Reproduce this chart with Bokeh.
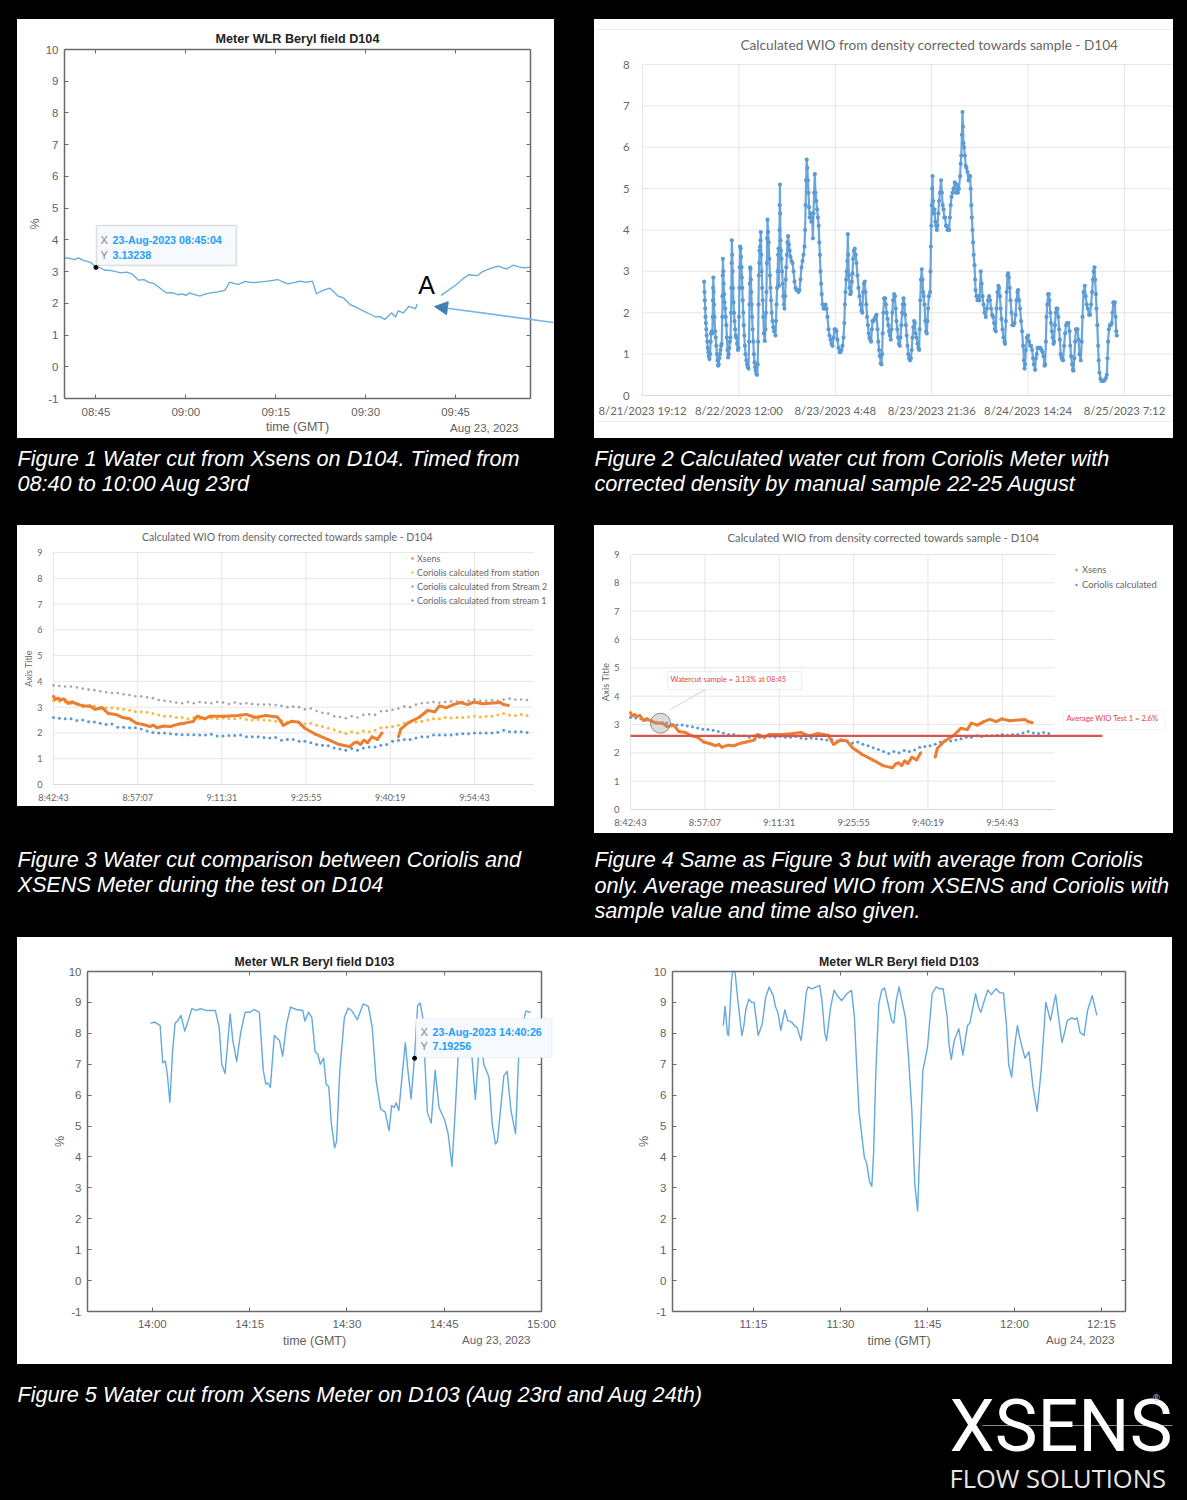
from math import pi, nan
from bokeh.plotting import figure
from bokeh.document import Document
from bokeh.layouts import column, row
from bokeh.embed import file_html
from bokeh.resources import INLINE
from bokeh.events import DocumentReady
from bokeh.models import (Range1d, LinearAxis, FixedTicker, Label, BoxAnnotation, Arrow, NormalHead,
                          Spacer, Legend, LegendItem, CustomJS)

# ---------- Figure 1 : minutes after 08:40 ----------
fig1_t = [-0.25, 0.64, 1.4, 2.07, 2.8, 3.5, 4.2, 5, 5.7, 6.4, 7.5, 8.3, 9.2, 10.1, 11, 12.1, 13, 13.8, 14.7, 15.6, 16.7, 17.7, 18.7, 19.4, 20, 20.6, 21.3, 22.4, 23.3, 24.2, 25.3, 26.5, 27.3,
          28.1, 28.8, 29.9, 31, 32.2, 33.7, 35.3, 37, 38, 39.1, 40.1, 41.1, 41.8, 42.8, 44, 45.4, 46.3, 47.4, 48.4, 49.4, 50.5, 51.7, 52.4, 53.2, 54.3, 55, 55.4, 56.3, 57.2, 58.3, 58.6,
          60, 62.6, 63.8, 65.2, 66.2, 67.2, 68.6, 69.5, 70.8, 72.1, 73.5, 74.6, 75.5, 76.4, 77.5]
fig1_wlr = [3.43, 3.42, 3.38, 3.43, 3.36, 3.32, 3.28, 3.13, 3.12, 3.05, 3.03, 3.0, 2.96, 2.98, 2.93, 2.73, 2.75, 2.66, 2.62, 2.49, 2.33, 2.34, 2.27, 2.3, 2.25, 2.33, 2.28, 2.23, 2.3, 2.33, 2.36, 2.41, 2.67,
            2.62, 2.6, 2.69, 2.65, 2.67, 2.7, 2.75, 2.61, 2.65, 2.7, 2.66, 2.7, 2.3, 2.4, 2.48, 2.23, 2.17, 1.96, 1.88, 1.78, 1.68, 1.57, 1.58, 1.49, 1.7, 1.57, 1.76, 1.7, 1.9, 1.83, 1.98,
            nan, 2.25, 2.41, 2.6, 2.77, 2.9, 2.87, 3.0, 3.1, 3.17, 3.08, 3.2, 3.15, 3.12, 3.14]
fig1_ticks = [5, 20, 35, 50, 65]
fig1_labels = ["08:45", "09:00", "09:15", "09:30", "09:45"]
matlab_y = [-1, 0, 1, 2, 3, 4, 5, 6, 7, 8, 9, 10]

# ---------- Figure 2 : axis units, one tick = 96.4 ----------
fig2_trace = [
 (61.6,2.75),(62,2.5),(62.3,2.3),(62.7,2.1),(63,1.9),(63.4,1.75),(63.8,1.6),(64.2,1.45),(64.8,1.3),(65.3,1.15),(65.8,1.05),(66.3,.95),(67,.88),(67.6,1),(68.2,1.3),(68.6,1.5),(69.2,1.55),(69.8,1.5),(70.2,1.9),(70.4,2.3),(70.6,2.6),(70.8,2.85),
 (71.2,2.5),(71.6,2.2),(72,1.9),(72.6,1.55),(73.2,1.4),(73.8,1.2),(74.4,1),(75,.85),(75.6,.72),(76.2,.75),(76.8,.9),(77.4,1),(78,1.1),(78.6,1.2),(79.2,1.25),(79.8,1.9),(80,2.4),(80.2,2.9),(80.4,3.3),(80.8,3),(81.2,2.7),(81.6,2.45),(82,2.25),(82.6,2.1),(83.2,1.9),(83.8,1.7),(84.4,1.4),(85,1.1),(85.6,.92),
 (86.2,1),(86.8,1.15),(87.4,1.3),(88,1.4),(88.6,2),(88.9,2.6),(89.1,3.2),(89.3,3.75),(89.7,3.4),(90.1,3),(90.5,2.6),(91,2.25),(91.5,2),(92,1.8),(92.6,1.6),(93.2,1.45),(93.8,1.4),(94.6,1.25),(95.4,1.1),(96,1.15),(96.5,1.9),(96.9,2.6),(97.2,3.1),(97.6,3.6),(98.2,3.55),(98.6,3.35),(99,3.1),(99.4,2.85),(99.8,2.6),(100.2,2.3),(100.7,2),(101.2,1.7),(101.8,1.45),(102.4,1.2),(103,1),(103.8,.85),(104.6,.75),(105.4,.68),(106,.65),
 (106.6,1.3),(107,2.2),(107.3,2.7),(107.6,3.1),(108,3.05),(108.4,2.8),(108.8,2.5),(109.2,2.2),(109.6,1.9),(110.2,1.6),(110.8,1.3),(111.4,1),(112,.8),(112.6,.68),(113.2,.6),(113.8,.52),(114.6,.5),(115.2,.75),(115.6,1.3),(116,2.2),(116.3,2.9),(116.7,3.2),(117,3.5),(117.5,3.6),(118,3.75),(118.3,3.95),(118.8,3.4),(119.2,3),(119.7,2.6),(120.2,2.3),(120.8,1.9),(121.4,1.5),(122.3,1.32),(123,1.6),(123.5,2),(124,2.5),(124.3,3.2),(124.6,3.8),(125,4.25),(125.6,3.95),(126.2,3.7),(126.8,3.3),(127.4,2.9),(128,2.6),(128.6,2.3),(129.2,2),(130,1.8),(130.8,1.65),(131.6,1.55),(133,1.45),
 (133.5,1.8),(134,2.2),(134.6,2.6),(135.2,3),(135.6,3.4),(136,3.55),(136.5,2.65),(137,4),(137.2,4.6),(137.4,5.1),(137.7,4.4),(138,3.75),(138.5,3.5),(139,3.3),(139.6,3),(140.2,2.7),(140.8,2.4),(141.4,2.2),(142,2.1),(142.6,2.4),(143.2,2.8),(143.8,3.1),(144.4,3.4),(145,3.7),(145.6,3.85),(146.4,3.65),(147.2,3.5),(148,3.35),(149,3.25),(150,3.2),(151,3),(152,2.75),(153,2.6),(154,2.55),(155,2.55),(156,2.5),(157,2.55),(158,2.8),(159,3.1),(160,3.25),(161,3.4),(162,3.6),(162.6,4),(163.1,4.6),(163.6,5.2),(164.2,5.7),(164.8,5.5),(165.4,5.2),(166,4.9),(166.6,4.55),(167.2,4.3),(168,4.4),(168.8,4.2),(169.6,4.3),(170.4,3.8),(171,4.4),(171.6,4.9),(172.3,5.35),(173,4.9),(173.8,4.7),(174.6,4.5),(175.4,4.3),(176.2,4.1),(176.8,3.7),(177.4,3.4),(178,3),(178.6,2.7),(179.2,2.45),(180,2.2),(181,2.1),(182,2.1),(183,2.2),(184,2.1),(185,1.9),(186,1.6),(187,1.45),(188,1.35),(189,1.25),(190,1.2),(191,1.4),(192,1.6),(193,1.6),(194,1.55),(195,1.35),(196,1.15),(197,1.05),(198,1.05),(199,1.1),(200,1.2),(201,1.4),(201.8,1.75),(202.4,2.2),(203,2.5),(203.6,2.8),(204.2,3),(204.8,3.25),(205.3,3.9),(205.8,3.4),(206.4,2.9),(207,2.6),(207.8,2.45),(208.6,2.5),(209.4,2.75),(210,2.95),(210.6,3.3),(211.4,3.5),(212.3,3.55),(213.2,3.4),(214,3.2),(215,2.9),(216,2.6),(217,2.4),(218,2.2),(219,2.05),(219.8,2),(220.6,2.5),(221.4,2.7),(222.3,2.75),(223,2.5),(223.8,2.2),(224.6,1.9),(225.4,1.7),(226.2,1.5),(227,1.4),(227.8,1.35),(228.6,1.3),(229.4,1.6),(230,1.8),(231,1.8),(232,1.85),(233,1.9),(234,1.95),(235,1.6),(235.8,1.3),(236.6,1.1),(237.4,.95),(238.3,.78),(239,.75),(239.6,1),(240.2,1.5),(240.8,2),(241.6,2.35),
 (242.6,2.35),(243.4,2.2),(244.2,2),(245,1.85),(245.8,1.7),(246.6,1.55),(247.4,1.45),(248.3,1.35),(249,1.6),(249.8,2),(250.6,2.3),(251.6,2.45),(252.4,2.4),(253.2,2.1),(254,1.8),(254.8,1.6),(255.6,1.4),(256.4,1.25),(257.3,1.2),(258,1.4),(258.8,1.7),(259.6,2),(260.2,2.2),(261,2.35),(261.8,2.2),(262.6,1.95),(263.4,1.7),(264.2,1.45),(265,1.2),(265.8,1),(266.6,.9),(267.6,.85),(268.4,.9),(269.2,1.1),(270,1.4),(270.8,1.65),(271.6,1.8),(272.4,1.75),(273.2,1.5),(274,1.4),(275,1.25),(276,1.15),(276.6,1.1),(277.2,1.6),(277.8,2.3),(278.4,2.8),(279.3,3.05),(280,2.8),(280.6,2.5),(281.2,2.4),(282,2.2),(282.8,1.8),(283.6,1.55),(284.3,1.5),(285,1.8),(285.6,2.1),(286.4,2.4),(287.6,2.5),(288,3),(288.4,3.6),(288.8,4.1),(289.2,4.6),(289.6,5),(290,5.3),(290.6,4.7),(291.2,4.4),(292,4.5),(292.8,4.2),(293.6,4.1),(294.4,4),(295,4.1),(295.8,4.4),(296.6,4.7),(297.4,4.9),(298.6,5.2),(299.4,4.9),(300.2,4.6),(301,4.5),(301.8,4.3),(302.6,4.3),(303.4,4.1),(304.2,4.1),(305,4),(306.6,4),(307.4,4.3),(308.2,4.6),(309,4.8),(310,4.9),(311,5),(312.3,5.15),(313.4,4.9),(314.4,5.1),(315.4,4.9),(316.4,5),(317.6,5.3),(318.2,5.6),(318.8,5.8),(319.4,6.3),(320,6.85),(320.5,6.5),(321,6.1),(321.6,6),(322.4,5.8),(323.2,5.55),(324,5.5),(325,5.4),(326,5.2),(327,5.3),(327.6,5.3),(328.2,5),(328.8,4.6),(329.4,4.3),(330,4),(330.6,3.7),(331.2,3.4),(332,3.15),(332.6,2.8),(333,2.55),(334,2.4),(335,2.3),(336,2.4),(337,2.3),(338.3,3),(339.2,2.7),(340,2.4),(341,2.2),(342,2),(343.3,1.9),(344.4,2.1),(345.6,2.3),(346.6,2.4),(347.6,2.3),(348.6,2.1),(349.6,1.95),(350.6,1.9),(351.6,1.75),(352.4,1.6),(353.3,1.55),(354,2.1),(355,2.5),(355.8,2.65),(356.6,2.6),(357.4,2.4),(358.2,2.1),(359,1.85),(360,1.6),(361,1.4),(362,1.3),(362.6,1.25),(363.4,1.8),(364.2,2.5),(365,2.9),(365.6,2.95),(366.4,2.85),(367.2,2.6),(368,2.3),(369,2),(370,1.7),(371,1.7),(372,1.75),(373,1.95),(374,2.3),(375,2.5),(375.6,2.55),(376.6,2.3),(377.6,2.1),(378.6,1.8),(379.6,1.55),(380.6,1.2),(381.4,.85),(382,.65),(382.6,.75),(383.4,1.1),(384.4,1.4),(385.6,1.45),(386.6,1.3),(387.6,1.2),(388.6,1.2),(389.6,1.1),(390.6,.9),(391.4,.75),(392.6,.62),(393.4,.9),(394.2,1),(395,1.15),(396,1.15),(397,1.15),(398,1.15),(399,1.1),(400,1.05),(401,.95),(402,.72),(402.6,.75),(403.4,1.3),(404,1.9),(404.8,2.2),(405.6,2.45),(406.3,2.45),(407,2.3),(407.8,2),(408.6,1.75),(409.4,1.55),(410.2,1.4),(411,1.25),(411.6,1.3),(412.4,1.7),(413.2,2),(414,2.1),(415,2.1),(415.8,1.9),(416.6,1.6),(417.4,1.35),(418.2,1),(419,.92),(419.8,.87),(420.6,.85),(421.6,1.2),(422.6,1.5),(423.6,1.7),(424.6,1.75),(426,1.75),(427,1.55),(427.8,1.2),(428.6,.95),(429.6,.75),(430.4,.62),(431,.6),(431.8,.9),(432.6,1.3),(433.4,1.6),(434.2,1.6),(435,1.6),(436,1.35),(437,1),(438.3,.85),(439.2,1.3),(440,1.9),(441,2.5),(442.3,2.65),(443.2,2.4),(444.2,2.2),(445.2,2.1),(446.6,1.95),(447.6,1.95),(448.6,2.2),(449.6,2.5),(450.4,2.8),(451.2,3),(452,3.1),(452.6,2.8),(453.4,2.45),(454,2.1),(454.8,1.7),(455.6,1.2),(456.2,.85),(457,.55),(458,.4),(459,.35),(460,.35),(461,.35),(462,.37),(463.4,.42),(464.3,.5),(465,.9),(465.6,1.3),(466.4,1.6),(467.4,1.7),(468.3,1.7),(469.2,1.75),(470,2),(470.8,2.25),(471.6,2.2),(472.3,2.25),(473,1.9),(473.7,1.55),(474.3,1.45)]
fig2_x = [a for a, b in fig2_trace]
fig2_y = [b for a, b in fig2_trace]
fig2_tick_step = 96.4
fig2_labels = ["8/21/2023 19:12", "8/22/2023 12:00", "8/23/2023 4:48", "8/23/2023 21:36", "8/24/2023 14:24", "8/25/2023 7:12"]
fig2_yticks = [0, 1, 2, 3, 4, 5, 6, 7, 8]

# ---------- Figures 3 and 4 : minutes after 8:42:43 ----------
clock_ticks = [0, 14.4, 28.8, 43.2, 57.6, 72]
clock_labels = ["8:42:43", "8:57:07", "9:11:31", "9:25:55", "9:40:19", "9:54:43"]
wio_yticks = [0, 1, 2, 3, 4, 5, 6, 7, 8, 9]
xsens_t = [0, .3, .8, 1.2, 1.8, 2.5, 3.2, 4.1, 5, 6.2, 7.1, 8.3, 9.4, 10.6, 11.8, 13, 14.2, 15.3, 16.5, 17.1, 17.7, 18.9, 20, 21.5, 22.4, 23.9, 24.6,
           25.9, 26.8, 29.2, 31.5, 33, 34.5, 36.3, 38.3, 39.3, 40.7, 41.9, 43, 44.8, 46.9, 48.9, 50.7, 51.3, 51.9, 52.5, 53.1, 53.7, 54.5, 55.4, 56.2,
           57.5, 59, 59.4, 60.7, 62.5, 64, 65.2, 66, 67.2, 68.4, 69.6, 70.8, 71.9, 73.4, 76.4, 77, 77.8]
xsens_v = [3.42, 3.3, 3.35, 3.28, 3.32, 3.15, 3.2, 3.12, 3.05, 3.05, 2.92, 2.98, 2.75, 2.72, 2.6, 2.55, 2.38, 2.33, 2.25, 2.3, 2.2, 2.27, 2.25, 2.35, 2.38, 2.45, 2.65,
           2.55, 2.65, 2.65, 2.68, 2.72, 2.6, 2.68, 2.62, 2.3, 2.45, 2.42, 2.18, 1.95, 1.75, 1.55, 1.47, 1.6, 1.65, 1.55, 1.72, 1.62, 1.85, 1.75, 2.0,
           nan, 1.85, 2.15, 2.4, 2.6, 2.87, 2.82, 3.05, 2.98, 3.1, 3.18, 3.1, 3.2, 3.13, 3.18, 3.1, 3.07]
coriolis_stream2 = [3.85,3.82,3.8,3.8,3.76,3.72,3.68,3.66,3.62,3.58, 3.55,3.55,3.5,3.47,3.42,3.42,3.38,3.35,3.28,3.25,
                    3.22,3.18,3.15,3.2,3.15,3.2,3.17,3.15,3.2,3.18, 3.12,3.18,3.13,3.15,3.12,3.1,3.1,3.1,3.08,3.05,
                    3.0,3.02,3.0,2.92,2.95,2.85,2.78,2.75,2.65,2.62, 2.57,2.65,2.6,2.7,2.72,2.7,2.84,2.85,2.9,2.95,
                    3.03,3.0,3.1,3.15,3.17,3.2,3.17,3.2,3.22,3.22, 3.2,3.25,3.3,3.25,3.25,3.27,3.25,3.3,3.33,3.3, 3.3,3.28]
coriolis_station = [3.25,3.23,3.2,3.15,3.12,3.08,3.05,3.05,3.0,2.98, 2.98,2.95,2.92,2.88,2.83,2.82,2.8,2.75,2.7,2.65,
                    2.65,2.6,2.6,2.55,2.6,2.55,2.55,2.58,2.55,2.58, 2.55,2.55,2.58,2.52,2.5,2.52,2.5,2.48,2.45,2.47,
                    2.42,2.43,2.4,2.35,2.38,2.3,2.25,2.18,2.12,2.05, 1.98,2.05,2.0,2.08,2.05,2.1,2.2,2.22,2.25,2.3,
                    2.38,2.42,2.42,2.45,2.5,2.55,2.55,2.6,2.58,2.6, 2.6,2.62,2.65,2.62,2.65,2.65,2.7,2.75,2.7,2.68, 2.72,2.68]
coriolis_stream1 = [2.6,2.57,2.55,2.55,2.48,2.5,2.43,2.42,2.38,2.33, 2.35,2.22,2.22,2.2,2.2,2.15,2.08,2.02,2.0,2.0,
                    1.97,1.95,1.93,1.93,1.93,1.92,1.92,1.95,1.88,1.88, 1.9,1.9,1.92,1.85,1.85,1.85,1.82,1.8,1.82,1.72,
                    1.75,1.75,1.68,1.68,1.62,1.55,1.52,1.5,1.42,1.38, 1.33,1.4,1.33,1.42,1.45,1.45,1.52,1.55,1.68,1.72,
                    1.75,1.75,1.8,1.85,1.85,1.92,1.92,1.92,1.92,1.95, 1.97,1.97,2.0,2.0,2.0,2.0,2.03,2.1,2.05,2.05, 2.05,2.02]
coriolis_t = list(range(len(coriolis_station)))
average_wio = 2.6

# ---------- Figure 5 ----------
d23_t = [-.3,.4,1.2,1.6,2,2.3,2.7,3.1,3.5,3.9,4.4,5,5.4,6.1,6.8,7.4,8.3,9.7,10.3,10.7,11.2,11.6,12,12.4,13,13.6,14.3,15,15.7,16.5,17.1,17.5,17.8,18.2,18.8,19.6,20.1,20.7,21.3,22.2,23.2,23.5,24.1,24.6,25.1,25.5,25.9,26.4,26.8,27.2,27.6,28.1,28.4,28.9,29.6,30.2,30.8,31.6,32.5,33.3,33.9,34.5,35.2,35.9,36.5,36.9,37.3,37.6,38,39,39.4,39.9,40.4,40.9,41.3,41.7,42.4,43,43.6,44.2,45.1,45.6,46.2,46.7,47.3,47.9,48.5,49.2,49.8,50.2,50.6,51.1,51.9,52.4,52.9,53.2,54.2,54.7,55.3,56,56.6,57.6,58.3]
d23_v = [8.33,8.36,8.25,7.05,7.1,6.7,5.77,7.35,8.33,8.4,8.58,8.07,8.33,8.8,8.74,8.8,8.74,8.74,8.2,7.0,6.7,7.65,8.63,7.77,7.09,8.0,8.68,8.68,8.77,8.68,6.8,6.35,6.4,6.25,7.93,7.77,7.26,8.3,8.85,8.77,8.74,8.4,8.68,8.5,7.4,7.33,7.0,7.2,6.35,6.27,5.07,4.3,4.5,6.8,8.5,8.82,8.72,8.44,8.95,8.87,8.2,6.47,5.55,5.45,4.85,5.66,5.6,5.75,5.5,7.7,6.8,5.88,7.19,8.9,8.98,8.5,5.45,5.1,6.8,5.6,5.18,4.75,3.7,5.5,7.87,7.6,8.3,7.44,5.86,7.0,8.2,7.0,6.58,5.07,4.42,4.5,6.63,6.77,5.5,4.75,7.87,8.72,8.68]
d24_t = [-5.2,-4.9,-4.5,-4.3,-3.8,-3.6,-3.2,-2.7,-2,-1.7,-1.3,-.8,-.3,.1,.8,1.5,2.1,2.7,3.4,3.8,4.2,4.7,5.4,5.9,6.6,7.2,7.5,8.2,8.6,9.1,9.4,10.1,11.4,11.8,12.3,12.6,13.3,13.9,14.5,15.2,16.1,16.9,17.4,17.7,18.2,18.7,19.1,19.5,20,20.4,20.7,21.1,21.6,22.1,22.6,23.2,23.8,24.2,24.6,25.1,25.7,26.2,26.7,27.3,27.8,28.3,28.7,29.2,29.6,30,30.8,31.5,32.1,32.7,33.4,33.7,34.1,34.6,35.4,36.1,36.9,37.3,37.8,38.3,38.8,39.2,39.7,40.4,41,41.8,42.5,43.1,43.6,44,44.5,45,45.5,46,46.8,47.5,48.2,48.9,49.6,50.4,51.2,52.1,52.6,53.2,53.6,54.1,54.9,55.4,55.8,56.3,57,57.6,58.4,59.2]
d24_v = [8.25,8.88,7.98,7.93,9.7,10.0,10.0,9.06,7.93,8.2,8.8,9.1,9.0,9.0,7.93,8.3,9.17,9.5,9.22,8.85,8.68,8.1,8.76,8.41,8.36,8.22,8.2,7.77,8.41,9.33,9.5,9.44,9.55,9.06,7.98,7.77,8.85,9.4,9.2,9.06,9.28,9.39,8.52,7.3,5.45,4.65,4.0,3.8,3.2,3.05,4.1,6.8,8.95,9.39,9.47,8.95,8.41,8.33,9.06,9.5,8.95,8.5,7.3,5.5,3.13,2.25,4.4,6.8,7.17,7.55,9.28,9.5,9.44,9.44,8.52,7.65,7.15,7.77,8.15,7.3,8.25,8.33,8.8,9.28,8.85,8.68,9.0,9.4,9.25,9.44,9.31,9.31,8.3,7.0,6.58,7.55,8.25,7.77,7.2,7.4,6.25,5.48,6.8,9.0,8.41,9.25,8.52,7.7,8.0,8.41,8.5,8.45,8.5,8.03,7.93,8.74,9.22,8.58]
d23_ticks = [0, 15, 30, 45, 60]
d23_labels = ["14:00", "14:15", "14:30", "14:45", "15:00"]
d24_ticks = [0, 15, 30, 45, 60]
d24_labels = ["11:15", "11:30", "11:45", "12:00", "12:15"]

SANS = "Liberation Sans"
MGREY = "#5f5f5f"
LINE_BLUE = "#62a9e0"


def panel(x0, y0, x1, y1, fl, ft, fr, fb, xr, yr, bg="white"):
    """The plot area fills the whole panel, its range is widened so that the axes sit at the given pixels."""
    sx = (xr[1] - xr[0]) / (fr - fl)
    sy = (yr[1] - yr[0]) / (fb - ft)
    xa = (xr[0] - (fl - x0) * sx, xr[1] + (x1 - fr) * sx)
    ya = (yr[0] - (y1 - fb) * sy, yr[1] + (ft - y0) * sy)
    p = figure(width=x1 - x0, height=y1 - y0, x_range=Range1d(*xa), y_range=Range1d(*ya),
               x_axis_type=None, y_axis_type=None, output_backend="svg", toolbar_location=None, tools="",
               min_border=0, background_fill_color=bg, border_fill_color=bg, outline_line_color=None,
               styles={"background-color": bg})
    def conv(px, py):
        return (xr[0] + (px - fl) * sx, yr[0] + (fb - py) * sy)
    return p, conv


def put(p, conv, px, py, text, size, color="#555555", align="left", font=SANS, style="normal", base="middle"):
    x, y = conv(px, py)
    p.add_layout(Label(x=x, y=y, text=text, text_font=font, text_font_size=f"{size}px", text_color=color,
                       text_align=align, text_baseline=base, text_font_style=style))


def box(p, conv, px0, py0, px1, py1, fill, line, lw=1.0):
    l, t = conv(px0, py0)
    r, b = conv(px1, py1)
    p.add_layout(BoxAnnotation(left=l, right=r, top=t, bottom=b, fill_color=fill, fill_alpha=1,
                               line_color=line, line_width=lw))


def matlab_axes(p, xr, yr, xticks, xlabels, xlabel, std=7, lab_std=3, y_std=6):
    tx, ty = FixedTicker(ticks=xticks), FixedTicker(ticks=matlab_y)
    common = dict(major_tick_in=4, major_tick_out=0, minor_tick_line_color=None, axis_line_color="#6a6a6a",
                  axis_line_width=1.5, major_tick_line_color="#6a6a6a")
    bottom = LinearAxis(ticker=tx, fixed_location=yr[0], bounds=xr,
                        major_label_overrides={t: s for t, s in zip(xticks, xlabels)},
                        major_label_text_font=SANS, major_label_text_font_size="11.5px", major_label_text_color=MGREY,
                        major_label_standoff=std, axis_label=xlabel, axis_label_text_font=SANS,
                        axis_label_text_font_size="12.5px", axis_label_text_font_style="normal",
                        axis_label_text_color=MGREY, axis_label_standoff=lab_std, **common)
    left = LinearAxis(ticker=ty, fixed_location=xr[0], bounds=yr, major_label_overrides={-1: "-1"},
                      major_label_text_font=SANS, major_label_text_font_size="11.5px",
                      major_label_text_color=MGREY, major_label_standoff=6, axis_label="%", axis_label_text_font=SANS,
                      axis_label_text_font_size="12.5px", axis_label_text_font_style="normal",
                      axis_label_text_color=MGREY, axis_label_standoff=y_std, **common)
    top = LinearAxis(ticker=tx, fixed_location=yr[1], bounds=xr, major_label_text_font_size="0px",
                     major_label_text_color=None, **common)
    right = LinearAxis(ticker=ty, fixed_location=xr[1], bounds=yr, major_label_text_font_size="0px",
                       major_label_text_color=None, **common)
    p.add_layout(bottom, "below"); p.add_layout(left, "left")
    p.add_layout(top, "above"); p.add_layout(right, "right")


def excel_axes(p, xr, yr, xticks, xlabels, yticks, size, std_x, std_y, ytitle=None):
    tx, ty = FixedTicker(ticks=xticks), FixedTicker(ticks=yticks)
    p.segment(x0=xticks, y0=[yr[0]] * len(xticks), x1=xticks, y1=[yr[1]] * len(xticks), line_color="#e6e6e6", level="underlay")
    p.segment(x0=[xr[0]] * len(yticks), y0=yticks, x1=[xr[1]] * len(yticks), y1=yticks, line_color="#e6e6e6", level="underlay")
    common = dict(major_tick_in=0, major_tick_out=0, major_tick_line_color=None, minor_tick_line_color=None)
    bottom = LinearAxis(ticker=tx, fixed_location=yr[0], bounds=xr,
                        major_label_overrides={t: s for t, s in zip(xticks, xlabels)},
                        major_label_text_font="Lato", major_label_text_font_size=f"{size}px",
                        major_label_text_color="#666666", major_label_standoff=std_x,
                        axis_line_color="#d9d9d9", **common)
    left = LinearAxis(ticker=ty, fixed_location=xr[0], bounds=yr, major_label_text_font="Lato",
                      major_label_text_font_size=f"{size}px",
                      major_label_text_color="#666666", major_label_standoff=std_y,
                      axis_line_color=None, **common)
    if ytitle:
        left.axis_label = ytitle
        left.axis_label_text_font = "Lato"
        left.axis_label_text_font_size = f"{size}px"
        left.axis_label_text_font_style = "normal"
        left.axis_label_text_color = "#666666"
        left.axis_label_standoff = 0
    p.add_layout(bottom, "below"); p.add_layout(left, "left")


# ---- Figure 1
xr1, yr1 = (-0.25, 77.5), (-1, 10)
f1, c1 = panel(17, 19, 554, 438, 64, 49, 530, 398, xr1, yr1)
matlab_axes(f1, xr1, yr1, fig1_ticks, fig1_labels, "time (GMT)", std=7, lab_std=-1, y_std=1)
f1.line(fig1_t, fig1_wlr, line_color=LINE_BLUE, line_width=1.3, line_join="round")
put(f1, c1, 297, 38, "Meter WLR Beryl field D104", 12.6, "#222222", "center", style="bold")
put(f1, c1, 518, 427, "Aug 23, 2023", 11.5, MGREY, "right")
box(f1, c1, 96, 225, 236, 265, "#f6f9fe", "#9a9a9a", 1.6)
f1.scatter([5], [3.13238], size=4, color="black", level="overlay")
put(f1, c1, 100, 239.5, "X", 11, "#8a7f75")
put(f1, c1, 112, 239.5, "23-Aug-2023 08:45:04", 10.7, "#22a0f5", style="bold")
put(f1, c1, 100, 254, "Y", 11, "#8a7f75")
put(f1, c1, 112, 254, "3.13238", 10.7, "#22a0f5", style="bold")
put(f1, c1, 426, 284, "A", 25, "#000000", "center")
xs, ys = c1(553, 322)
xe, ye = c1(434, 306)
f1.add_layout(Arrow(end=NormalHead(size=13, fill_color="#3f7fb8", line_color="#3f7fb8"), x_start=xs, y_start=ys,
                    x_end=xe, y_end=ye, line_color="#79b4e6", line_width=1.6))

# ---- Figure 2
xr2, yr2 = (0, 530), (0, 8)
f2, c2 = panel(594, 19, 1173, 438, 642, 64, 1172, 395, xr2, yr2)
excel_axes(f2, xr2, yr2, [i * fig2_tick_step for i in range(6)], fig2_labels, fig2_yticks, 11.3, 8, 13)
f2.line(fig2_x, fig2_y, line_color="#5b9bd5", line_width=2.2, line_alpha=0.9)
f2.scatter(fig2_x, fig2_y, size=4.2, color="#5b9bd5", line_color=None)
put(f2, c2, 929, 44, "Calculated WIO from density corrected towards sample - D104", 13.65, "#666666", "center", font="Lato")
lx, _ = c2(594, 0)
rx, _ = c2(1173, 0)
f2.segment(x0=[lx, lx], y0=[c2(0, 29)[1], c2(0, 421)[1]], x1=[rx, rx], y1=[c2(0, 29)[1], c2(0, 421)[1]], line_color="#eeeeee")

# ---- Figure 3
xr3, yr3 = (0, 82.1), (0, 9)
f3, c3 = panel(17, 525, 554, 806, 53, 552, 533, 784, xr3, yr3)
excel_axes(f3, xr3, yr3, clock_ticks, clock_labels, wio_yticks, 9, 7, 11, "Axis Title")
r3a = f3.scatter(coriolis_t, coriolis_station, size=3, color="#f9b93c", line_color=None)
r3b = f3.scatter(coriolis_t, coriolis_stream2, size=2.6, color="#a5a5a5", line_color=None)
r3c = f3.scatter(coriolis_t, coriolis_stream1, size=3, color="#5b9bd5", line_color=None)
r3x = f3.scatter(xsens_t, xsens_v, size=3, color="#ed7d31", line_color=None)
f3.line(xsens_t, xsens_v, line_color="#ed7d31", line_width=3)
put(f3, c3, 287, 536, "Calculated WIO from density corrected towards sample - D104", 10.5, "#666666", "center", font="Lato")
f3.add_layout(Legend(items=[LegendItem(label="Xsens", renderers=[r3x]),
                            LegendItem(label="Coriolis calculated from station", renderers=[r3a]),
                            LegendItem(label="Coriolis calculated from Stream 2", renderers=[r3b]),
                            LegendItem(label="Coriolis calculated from stream 1", renderers=[r3c])],
                     location=(392, 199), glyph_width=6, glyph_height=14, label_height=14, label_width=10, label_standoff=2,
                     spacing=0, padding=0, margin=0, background_fill_alpha=0, border_line_color=None,
                     label_text_font="Lato", label_text_font_size="9px", label_text_color="#666666"))

# ---- Figure 4
xr4, yr4 = (0, 82.1), (0, 9)
f4, c4 = panel(594, 525, 1173, 833, 630, 554, 1054, 809, xr4, yr4)
excel_axes(f4, xr4, yr4, clock_ticks, clock_labels, wio_yticks, 9.5, 7, 11, "Axis Title")
r4c = f4.scatter(coriolis_t, coriolis_station, size=3, color="#5b9bd5", line_color=None)
r4x = f4.scatter(xsens_t, xsens_v, size=3, color="#ed7d31", line_color=None)
f4.line(xsens_t, xsens_v, line_color="#ed7d31", line_width=3)
put(f4, c4, 883, 537, "Calculated WIO from density corrected towards sample - D104", 11.25, "#666666", "center", font="Lato")
xe, _ = c4(1102, 0)
f4.add_layout(Arrow(end=None, x_start=0, y_start=average_wio, x_end=xe, y_end=average_wio,
                    line_color="#d9544f", line_width=2.4))
cx, cy = c4(660, 722.7)
f4.scatter([cx], [cy], size=20, fill_color="#9a9a9a", fill_alpha=0.35, line_color="#8a8a8a", level="overlay")
xs, ys = c4(705, 689)
xe, ye = c4(670, 709)
f4.add_layout(Arrow(end=None, x_start=xs, y_start=ys, x_end=xe, y_end=ye, line_color="#bcd7ee", line_width=1))
box(f4, c4, 667, 671, 801, 689, "white", "#c8c8c8", 1)
put(f4, c4, 670, 678.5, "Watercut sample = 3.13% at 08:45", 7.6, "#e8413c", font="Lato")
box(f4, c4, 1063, 710, 1164, 729, "white", "#e0e0e0", 1)
put(f4, c4, 1066, 717.5, "Average WIO Test 1 = 2.6%", 7.6, "#e8413c", font="Lato")
f4.add_layout(Legend(items=[LegendItem(label="Xsens", renderers=[r4x]),
                            LegendItem(label="Coriolis calculated", renderers=[r4c])],
                     location=(479, 241), glyph_width=6, glyph_height=15, label_height=15, label_width=10, label_standoff=3,
                     spacing=0, padding=0, margin=0, background_fill_alpha=0, border_line_color=None,
                     label_text_font="Lato", label_text_font_size="9.4px", label_text_color="#666666"))

# ---- Figure 5
xr5a, yr5 = (-10, 60), (-1, 10)
f5a, c5a = panel(17, 937, 597, 1364, 87, 971, 541, 1311, xr5a, yr5)
matlab_axes(f5a, xr5a, yr5, d23_ticks, d23_labels, "time (GMT)", std=6, lab_std=1, y_std=-1)
f5a.line(d23_t, d23_v, line_color=LINE_BLUE, line_width=1.4, line_join="round")
put(f5a, c5a, 314, 961, "Meter WLR Beryl field D103", 12.3, "#222222", "center", style="bold")
put(f5a, c5a, 530, 1339, "Aug 23, 2023", 11.5, MGREY, "right")
box(f5a, c5a, 415.5, 1018, 551.5, 1057, "#f6f9fe", "#d5d5d5", 1.2)
f5a.scatter([40.43], [7.19256], size=4, color="black", level="overlay")
put(f5a, c5a, 420, 1031, "X", 11, "#8a7f75")
put(f5a, c5a, 432, 1031, "23-Aug-2023 14:40:26", 10.7, "#22a0f5", style="bold")
put(f5a, c5a, 420, 1045, "Y", 11, "#8a7f75")
put(f5a, c5a, 432, 1045, "7.19256", 10.7, "#22a0f5", style="bold")

xr5b = (-13.97, 64.14)
f5b, c5b = panel(597, 937, 1172, 1364, 672, 971, 1125, 1311, xr5b, yr5)
matlab_axes(f5b, xr5b, yr5, d24_ticks, d24_labels, "time (GMT)", std=6, lab_std=1, y_std=0)
f5b.line(d24_t, d24_v, line_color=LINE_BLUE, line_width=1.4, line_join="round")
put(f5b, c5b, 898.5, 961, "Meter WLR Beryl field D103", 12.3, "#222222", "center", style="bold")
put(f5b, c5b, 1114, 1339, "Aug 24, 2023", 11.5, MGREY, "right")


# ---- captions
def strip(x0, y0, x1, y1):
    return panel(x0, y0, x1, y1, x0, y0, x1, y1, (x0, x1), (y1, y0), bg="black")


def caption(p, c, x, y, text):
    put(p, c, x, y, text, 21.65, "#ffffff", style="italic")


s1, cs1 = strip(0, 438, 1187, 525)
caption(s1, cs1, 17, 458, "Figure 1 Water cut from Xsens on D104. Timed from")
caption(s1, cs1, 17, 483, "08:40 to 10:00 Aug 23rd")
caption(s1, cs1, 594, 458, "Figure 2 Calculated water cut from Coriolis Meter with")
caption(s1, cs1, 594, 483, "corrected density by manual sample 22-25 August")

s3, cs3 = strip(17, 806, 594, 937)
caption(s3, cs3, 17, 859, "Figure 3 Water cut comparison between Coriolis and")
caption(s3, cs3, 17, 884, "XSENS Meter during the test on D104")

s4, cs4 = strip(594, 833, 1187, 937)
caption(s4, cs4, 594, 859, "Figure 4 Same as Figure 3 but with average from Coriolis")
caption(s4, cs4, 594, 885, "only. Average measured WIO from XSENS and Coriolis with")
caption(s4, cs4, 594, 910, "sample value and time also given.")

s5, cs5 = strip(0, 1364, 1187, 1500)
caption(s5, cs5, 17, 1394, "Figure 5 Water cut from Xsens Meter on D103 (Aug 23rd and Aug 24th)")
gx0, gy = cs5(982, 1425)
gx1, _ = cs5(1172, 1425)
s5.line([gx0, gx1], [gy, gy], line_color="#8a8a8a", line_width=1)
put(s5, cs5, 949, 1426, "XSENS", 72, "#ffffff", font="Roboto")
put(s5, cs5, 1152, 1397, "®", 9, "#bbbbbb", font="Open Sans")
put(s5, cs5, 949, 1477, "FLOW SOLUTIONS", 25.5, "#e6e6e6", font="Open Sans")

gap = lambda w, h=1: Spacer(width=w, height=h)
root = column(
    gap(1187, 19),
    row(gap(17), f1, gap(40), f2, gap(14)),
    s1,
    row(gap(17), column(f3, s3), column(f4, s4)),
    row(gap(17), f5a, f5b, gap(15)),
    s5,
)
p = Document()
p.add_root(root)
p.js_on_event(DocumentReady, CustomJS(code="""
document.body.style.margin = '0';
document.body.style.background = '#000';
document.documentElement.style.background = '#000';
document.documentElement.style.overflow = 'hidden';
"""))
open("out.html", "w").write(file_html(p, INLINE))
